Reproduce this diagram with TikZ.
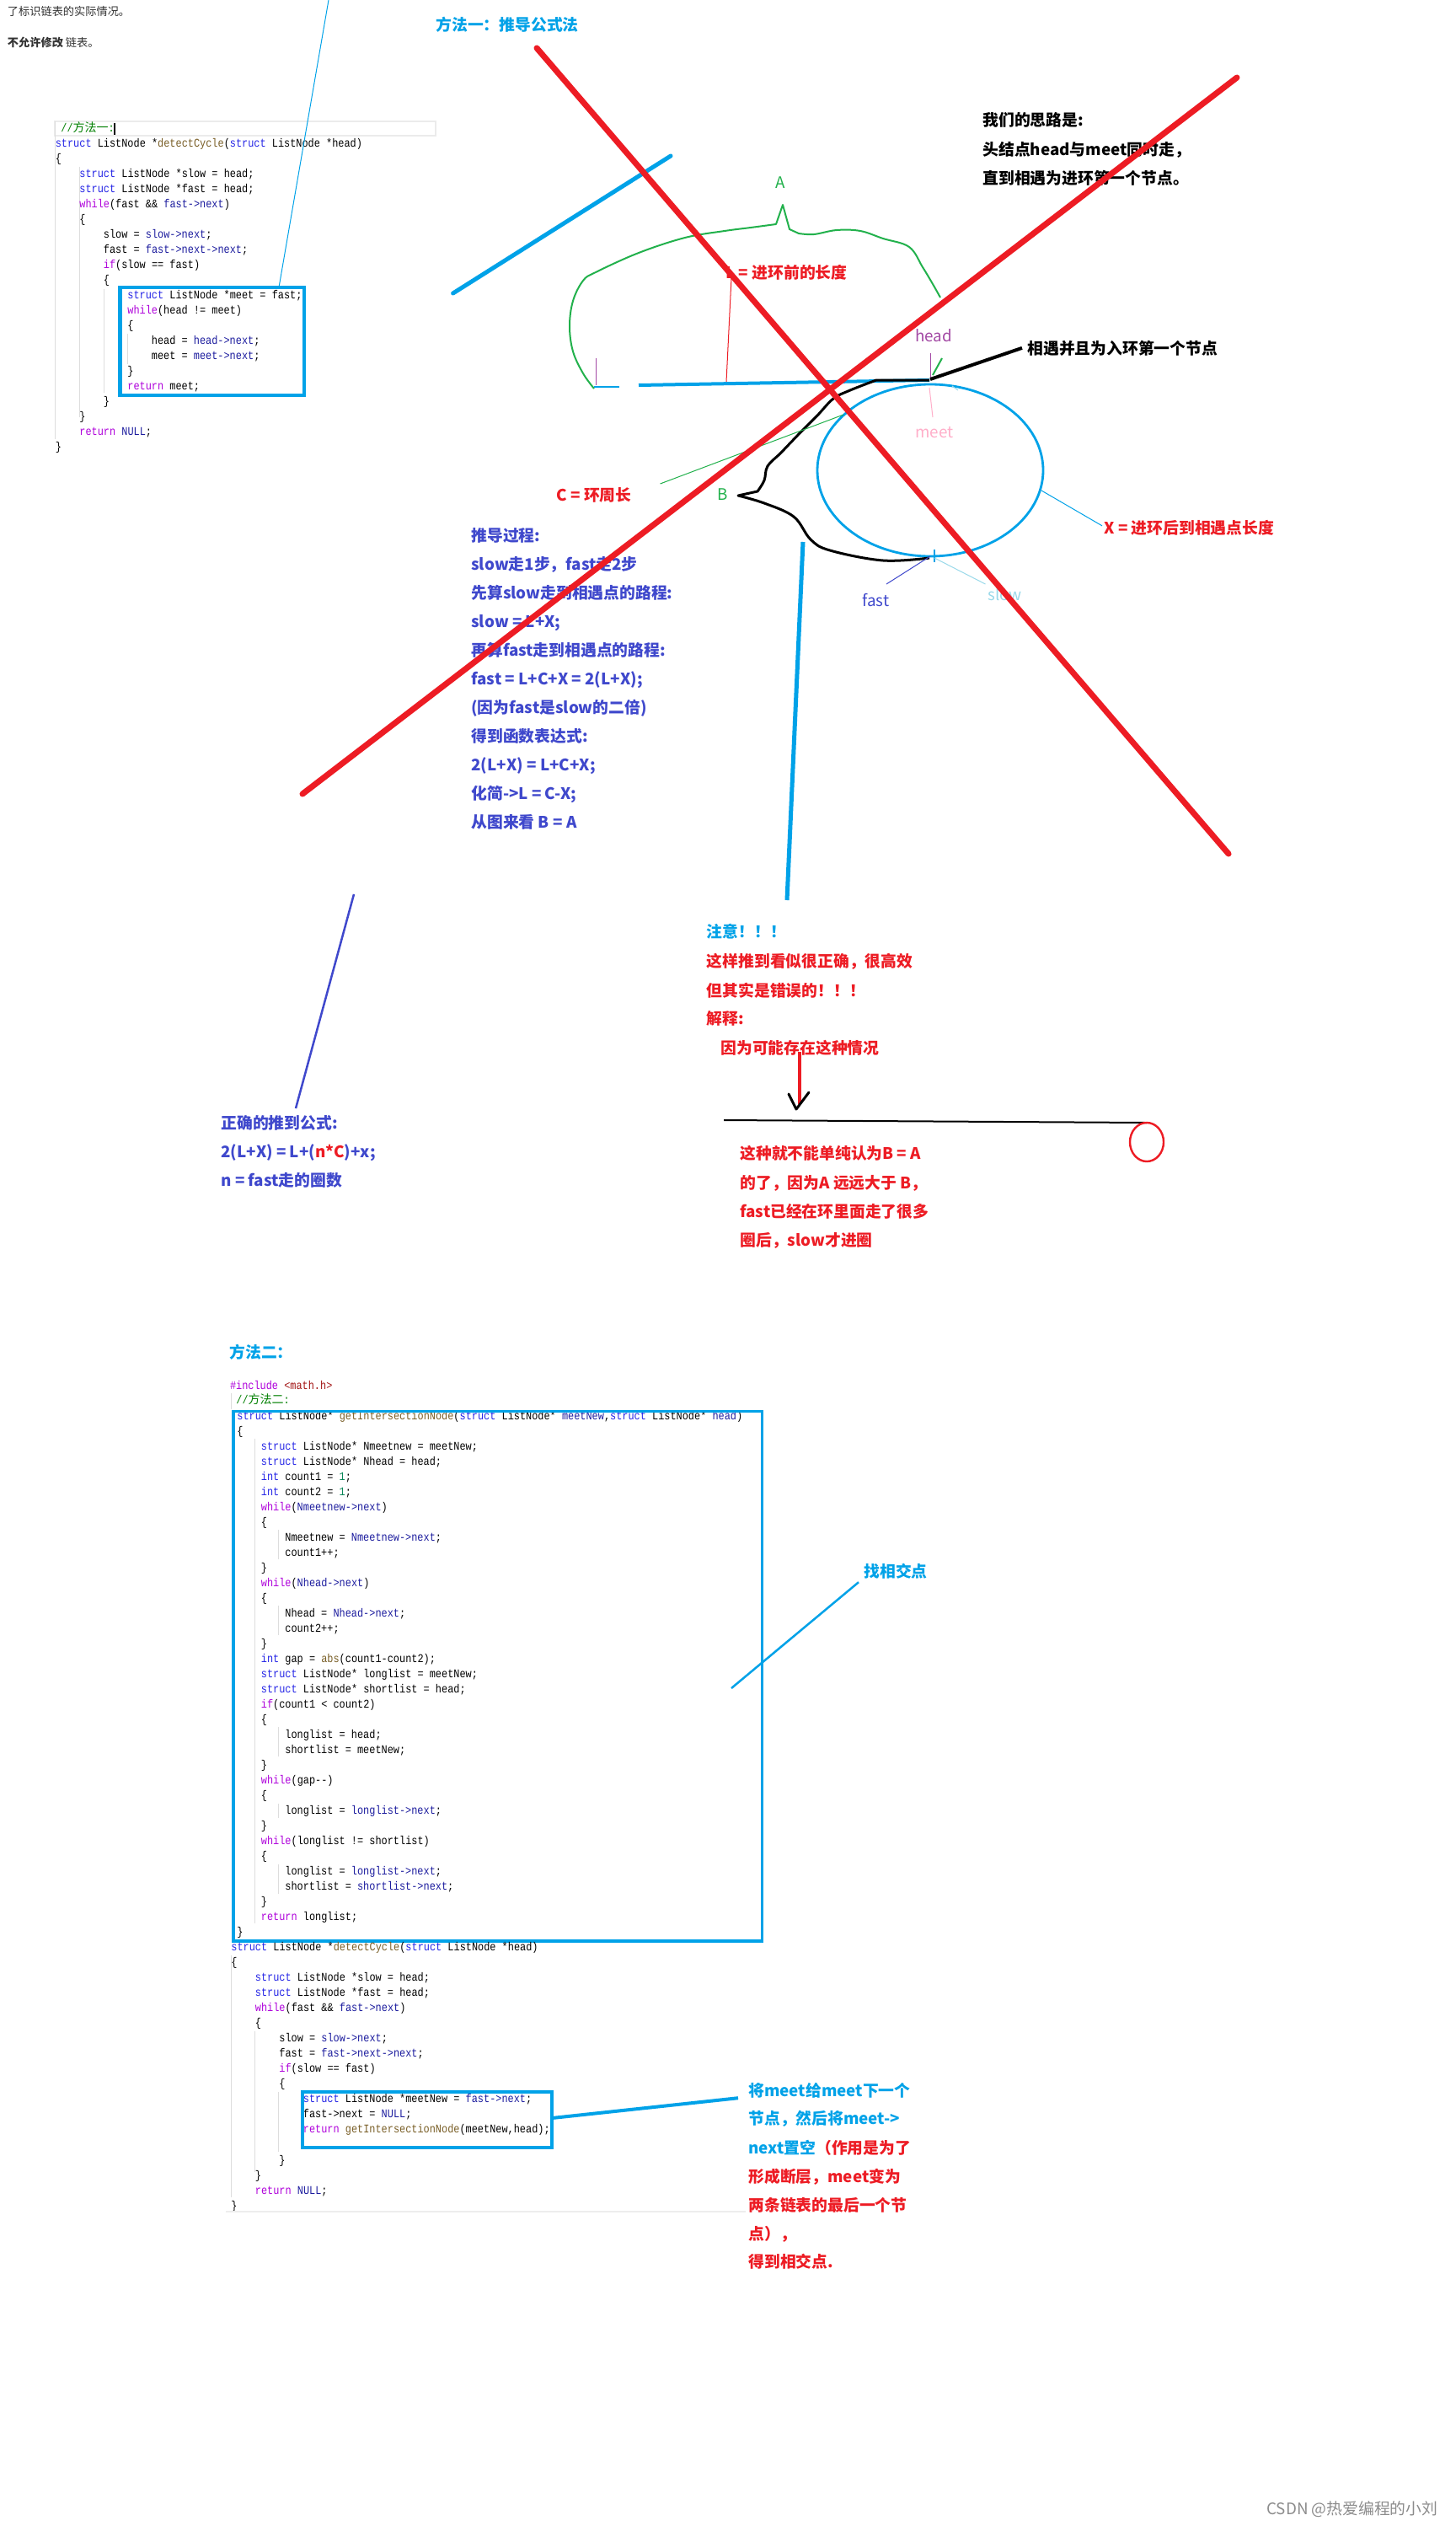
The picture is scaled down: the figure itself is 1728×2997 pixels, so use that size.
\documentclass[tikz,border=0pt]{standalone}
\usepackage{fontspec}
\setmainfont{Liberation Sans}
\newfontfamily\cjk{Noto Sans CJK SC}
\newfontfamily\codefam{Liberation Mono}[FakeStretch=0.85]
\newcommand\codefont{\codefam\fontsize{7}{8}\selectfont}
\newcommand\labfont{\cjk\bfseries\fontsize{9.4}{11}\selectfont}
\newcommand\labrfont{\cjk\fontsize{9.4}{11}\selectfont}
\newcommand\topfont{\cjk\fontsize{6.6}{8}\selectfont}
\definecolor{pblue}{HTML}{00A2E8}
\definecolor{pred}{HTML}{ED1C24}
\definecolor{pgreen}{HTML}{22B14C}
\definecolor{ppurple}{HTML}{A349A4}
\definecolor{ppink}{HTML}{FFAEC9}
\definecolor{pindigo}{HTML}{3F48CC}
\definecolor{plblue}{HTML}{99D9EA}
\definecolor{ckw}{HTML}{2424E6}
\definecolor{cct}{HTML}{AF00DB}
\definecolor{cfn}{HTML}{795E26}
\definecolor{cmb}{HTML}{1C1C9E}
\definecolor{ccm}{HTML}{008000}
\definecolor{cnu}{HTML}{098658}
\definecolor{csr}{HTML}{A31515}
\definecolor{cguide}{HTML}{DDDDDD}
\definecolor{txtgray}{HTML}{333333}
\definecolor{wmgray}{HTML}{8C8C8C}
\newcommand\xkw[1]{\textcolor{ckw}{#1}}
\newcommand\xct[1]{\textcolor{cct}{#1}}
\newcommand\xfn[1]{\textcolor{cfn}{#1}}
\newcommand\xmb[1]{\textcolor{cmb}{#1}}
\newcommand\xcm[1]{\textcolor{ccm}{#1}}
\newcommand\xnu[1]{\textcolor{cnu}{#1}}
\newcommand\xsr[1]{\textcolor{csr}{#1}}
\newcommand\cln[4]{\node[code] (#1) at (#2,#3) {#4};}
\begin{document}
\begin{tikzpicture}[x=0.5pt,y=-0.5pt,
  code/.style={anchor=base west,inner sep=0pt,font=\codefont,yshift=-2.1pt},
  lab/.style={anchor=base west,inner sep=0pt,font=\labfont,yshift=-3.5pt},
  labr/.style={anchor=base west,inner sep=0pt,font=\labrfont,yshift=-3.5pt},
  toptxt/.style={anchor=base west,inner sep=0pt,font=\topfont,text=txtgray,yshift=-2.4pt},
  guide/.style={draw=cguide,line width=0.5pt},
  redx/.style={draw=pred,line width=3.5pt,line cap=round},
  hair/.style={line width=0.5pt},
]
\fill[white] (0,0) rectangle (1728,2997);
\useasboundingbox (0,0) rectangle (1728,2997);

% ---------- top text ----------
\node[toptxt] (t1) at (8.6,14) {了标识链表的实际情况。};
\node[toptxt] (t2) at (8.6,51) {\bfseries 不允许修改\mdseries\ 链表。};

% ---------- code block 1 ----------
\draw[draw=black!8,line width=1pt] (65,144) rectangle (517,161);
\draw[black,line width=0.6pt] (136,146) -- (136,160);
\draw[guide] (65.4,144) -- (65.4,521);
\draw[guide] (94.7,198) -- (94.7,495);
\draw[guide] (123,343) -- (123,466);
\draw[guide] (151.7,396) -- (151.7,432);
\cln{c1a}{72}{152}{\xcm{//{\cjk 方法一}:}}
\cln{c1b}{65.4}{170}{\xkw{struct} ListNode *\xfn{detectCycle}(\xkw{struct} ListNode *head)}
\cln{c1c}{65.4}{188}{\{}
\cln{c1d}{94}{206}{\xkw{struct} ListNode *slow = head;}
\cln{c1e}{94}{224}{\xkw{struct} ListNode *fast = head;}
\cln{c1f}{94}{242}{\xct{while}(fast \&\& \xmb{fast->next})}
\cln{c1g}{94}{260}{\{}
\cln{c1h}{122.5}{278}{slow = \xmb{slow->next};}
\cln{c1i}{122.5}{296}{fast = \xmb{fast->next->next};}
\cln{c1j}{122.5}{314}{\xct{if}(slow == fast)}
\cln{c1k}{122.5}{332}{\{}
\cln{c1l}{151}{350}{\xkw{struct} ListNode *meet = fast;}
\cln{c1m}{151}{368}{\xct{while}(head != meet)}
\cln{c1n}{151}{386}{\{}
\cln{c1o}{179.5}{404}{head = \xmb{head->next};}
\cln{c1p}{179.5}{422}{meet = \xmb{meet->next};}
\cln{c1q}{151}{440}{\}}
\cln{c1r}{151}{458}{\xct{return} meet;}
\cln{c1s}{122.5}{476}{\}}
\cln{c1t}{94}{494}{\}}
\cln{c1u}{94}{512}{\xct{return} \xmb{NULL};}
\cln{c1v}{65.4}{530}{\}}
\draw[pblue,line width=2.25pt] (142.5,341) rectangle (361,469);
\coordinate (b1top) at (331,341);
\coordinate (b1end) at (390,0);
\draw[pblue,line width=0.5pt] (b1top) -- (b1end);

% ---------- method 1 diagram ----------
\node[lab,text=pblue] (title1) at (517,30) {方法一：推导公式法};
\node[lab] (idea1) at (1166,143) {我们的思路是:};
\node[lab] (idea2) at (1166,178) {头结点head与meet同时走，};
\node[lab] (idea3) at (1166,212) {直到相遇为进环第一个节点。};
\node[labr,text=pgreen] (labA) at (920,217) {A};
\node[lab,text=pred] (labL) at (861,323) {L = 进环前的长度};
\node[labr,text=ppurple] (labhead) at (1086,398) {head};
\node[lab] (meetlab) at (1219,413) {相遇并且为入环第一个节点};
\node[labr,text=ppink] (labmeet) at (1086,512) {meet};
\node[lab,text=pred] (labC) at (660,587) {C = 环周长};
\node[labr,text=pgreen] (labB) at (851,586) {B};
\node[lab,text=pred] (labX) at (1310,626) {X = 进环后到相遇点长度};
\node[labr,text=pindigo] (labfast) at (1023,712) {fast};
\node[labr,text=plblue] (labslow) at (1172,705) {slow};

% green lasso (A)
\draw[pgreen,line width=1pt,line join=round] plot[smooth,tension=0.6] coordinates {(705,461) (692,443) (680,417) (676,387) (680,357) (692,333) (707,323) (758,300) (813,282) (860,274) (891,270) (921,266)} -- (929,243) -- (937,272) -- plot[smooth,tension=0.6] coordinates {(948,277) (966,278) (993,273) (1021,274) (1048,283) (1079,293) (1095,317) (1107,337) (1116,353)};
\draw[pgreen,line width=1pt] (1118,425) -- (1107,445);
% L marker
\draw[pred,hair] (868,330) -- (862,453);
% purple ticks
\draw[ppurple,hair] (1104.5,419) -- (1104.5,450);
\draw[ppurple,hair] (707.5,425) -- (707.5,457);
% list line
\draw[pblue,line width=0.75pt] (705,459) -- (735,459);
\draw[pblue,line width=2pt] (758,457) -- (1103,451);
% cycle
\draw[pblue,line width=1.4pt] (1104,558) ellipse [x radius=134,y radius=102];
\draw[plblue,hair] (1130,458) -- (1137,463);
% pink meet tick
\draw[ppink,hair] (1103,460) -- (1107,495);
% black bracket (B)
\draw[black,line width=1.5pt,line join=round] (1103,451) -- (1040,451) -- plot[smooth,tension=0.6] coordinates {(1040,451) (1009,463) (989,473) (970,493) (950,513) (927,537) (911,553) (907,570) (899,583)} -- (876,588) -- plot[smooth,tension=0.6] coordinates {(876,588) (907,597) (942,613) (962,640) (985,653) (1048,665) (1103,662)};
\draw[black,line width=2pt] (1104,450) -- ([xshift=-3pt]meetlab.west);
% connectors to labels
\draw[pgreen,hair] (1001,492) -- (783.5,574);
\draw[pblue,hair] (1236,582) -- ([xshift=-1pt,yshift=1pt]labX.west);
\draw[pblue,line width=0.8pt] (1109,652) -- (1109,667);
\draw[pindigo,hair] (1104,660) -- (1052,693);
\draw[plblue,hair] (1109,662) -- (1169.5,693);
% blue strokes
\draw[pblue,line width=2.5pt,line cap=round] (796,185) -- (537.6,348);
\draw[pblue,line width=2.5pt] (953,643) -- (934,1068);

% derivation
\node[lab,text=pindigo] (d1) at (559,635) {推导过程:};
\node[lab,text=pindigo] (d2) at (559,669) {slow走1步，fast走2步};
\node[lab,text=pindigo] (d3) at (559,703) {先算slow走到相遇点的路程:};
\node[lab,text=pindigo] (d4) at (559,737) {slow = L+X;};
\node[lab,text=pindigo] (d5) at (559,771) {再算fast走到相遇点的路程:};
\node[lab,text=pindigo] (d6) at (559,805) {fast = L+C+X = 2(L+X);};
\node[lab,text=pindigo] (d7) at (559,839) {(因为fast是slow的二倍)};
\node[lab,text=pindigo] (d8) at (559,873) {得到函数表达式:};
\node[lab,text=pindigo] (d9) at (559,907) {2(L+X) = L+C+X;};
\node[lab,text=pindigo] (d10) at (559,941) {化简->L = C-X;};
\node[lab,text=pindigo] (d11) at (559,975) {从图来看 B = A};

% correct formula
\draw[pindigo,line width=1.25pt] (420,1061) -- (351,1315);
\node[lab,text=pindigo] (f1) at (262,1332) {正确的推到公式:};
\node[lab,text=pindigo] (f2) at (262,1366) {2(L+X) = L+(\textcolor{pred}{n*C})+x;};
\node[lab,text=pindigo] (f3) at (262,1400) {n = fast走的圈数};

% attention
\node[lab,text=pblue] (n1) at (838.5,1105) {注意！！！};
\node[lab,text=pred] (n2) at (838.5,1140) {这样推到看似很正确，很高效};
\node[lab,text=pred] (n3) at (838.5,1175) {但其实是错误的！！！};
\node[lab,text=pred] (n4) at (838.5,1208) {解释:};
\node[lab,text=pred] (n5) at (855,1243) {因为可能存在这种情况};
\draw[pred,line width=2pt] (949,1248) -- (949,1310);
\draw[black,line width=1.5pt,line join=round,line cap=round] (936,1298) -- (945,1316) -- (960,1296);
\draw[black,line width=1pt] (859,1329) -- (1361,1332);
\draw[pred,line width=1.2pt] (1361,1355) ellipse [x radius=20,y radius=23];
\node[lab,text=pred] (r1) at (878,1368) {这种就不能单纯认为B = A};
\node[lab,text=pred] (r2) at (878,1403) {的了，因为A 远远大于 B，};
\node[lab,text=pred] (r3) at (878,1437) {fast已经在环里面走了很多};
\node[lab,text=pred] (r4) at (878,1471) {圈后，slow才进圈};

% ---------- method 2 ----------
\node[lab,text=pblue] (title2) at (272,1604) {方法二：};
\draw[guide] (274,1653) -- (274,1672);
\cln{c2inc}{272.6}{1644}{\xct{\#include} \xsr{<math.h>}}
\cln{c2cm}{280}{1661}{\xcm{//{\cjk 方法二}:}}
\draw[guide] (302,1707) -- (302,2282);
\draw[guide] (330,1815) -- (330,1850);
\draw[guide] (330,1905) -- (330,1940);
\draw[guide] (330,2049) -- (330,2084);
\draw[guide] (330,2140) -- (330,2157);
\draw[guide] (330,2212) -- (330,2247);
\cln{c2a}{281}{1680}{\xkw{struct} ListNode* \xfn{getIntersectionNode}(\xkw{struct} ListNode* \xmb{meetNew},\xkw{struct} ListNode* \xmb{head})}
\cln{c2b}{281}{1698}{\{}
\cln{c2c}{309.5}{1716}{\xkw{struct} ListNode* Nmeetnew = meetNew;}
\cln{c2d}{309.5}{1734}{\xkw{struct} ListNode* Nhead = head;}
\cln{c2e}{309.5}{1752}{\xkw{int} count1 = \xnu{1};}
\cln{c2f}{309.5}{1770}{\xkw{int} count2 = \xnu{1};}
\cln{c2g}{309.5}{1788}{\xct{while}(\xmb{Nmeetnew->next})}
\cln{c2h}{309.5}{1806}{\{}
\cln{c2i}{338}{1824}{Nmeetnew = \xmb{Nmeetnew->next};}
\cln{c2j}{338}{1842}{count1++;}
\cln{c2k}{309.5}{1860}{\}}
\cln{c2l}{309.5}{1878}{\xct{while}(\xmb{Nhead->next})}
\cln{c2m}{309.5}{1896}{\{}
\cln{c2n}{338}{1914}{Nhead = \xmb{Nhead->next};}
\cln{c2o}{338}{1932}{count2++;}
\cln{c2p}{309.5}{1950}{\}}
\cln{c2q}{309.5}{1968}{\xkw{int} gap = \xfn{abs}(count1-count2);}
\cln{c2r}{309.5}{1986}{\xkw{struct} ListNode* longlist = meetNew;}
\cln{c2s}{309.5}{2004}{\xkw{struct} ListNode* shortlist = head;}
\cln{c2t}{309.5}{2022}{\xct{if}(count1 < count2)}
\cln{c2u}{309.5}{2040}{\{}
\cln{c2v}{338}{2058}{longlist = head;}
\cln{c2w}{338}{2076}{shortlist = meetNew;}
\cln{c2x}{309.5}{2094}{\}}
\cln{c2y}{309.5}{2112}{\xct{while}(gap-{}-)}
\cln{c2z}{309.5}{2130}{\{}
\cln{c2aa}{338}{2148}{longlist = \xmb{longlist->next};}
\cln{c2ab}{309.5}{2166}{\}}
\cln{c2ac}{309.5}{2184}{\xct{while}(longlist != shortlist)}
\cln{c2ad}{309.5}{2202}{\{}
\cln{c2ae}{338}{2220}{longlist = \xmb{longlist->next};}
\cln{c2af}{338}{2238}{shortlist = \xmb{shortlist->next};}
\cln{c2ag}{309.5}{2256}{\}}
\cln{c2ah}{309.5}{2274}{\xct{return} longlist;}
\cln{c2ai}{281}{2292}{\}}
\draw[pblue,line width=1.75pt] (277,1674.5) rectangle (904.5,2303);
\node[lab,text=pblue] (find) at (1025,1864) {找相交点};
\coordinate (findstart) at (868,2003);
\draw[pblue,line width=1.25pt] (findstart) -- ([xshift=-3pt,yshift=-2pt]find.south west);

% code block 3
\draw[guide] (274,2320) -- (274,2607);
\draw[guide] (302,2410) -- (302,2577);
\draw[guide] (330.7,2482) -- (330.7,2553);
\cln{c3a}{274}{2310}{\xkw{struct} ListNode *\xfn{detectCycle}(\xkw{struct} ListNode *head)}
\cln{c3b}{274}{2328}{\{}
\cln{c3c}{302.5}{2346}{\xkw{struct} ListNode *slow = head;}
\cln{c3d}{302.5}{2364}{\xkw{struct} ListNode *fast = head;}
\cln{c3e}{302.5}{2382}{\xct{while}(fast \&\& \xmb{fast->next})}
\cln{c3f}{302.5}{2400}{\{}
\cln{c3g}{331}{2418}{slow = \xmb{slow->next};}
\cln{c3h}{331}{2436}{fast = \xmb{fast->next->next};}
\cln{c3i}{331}{2454}{\xct{if}(slow == fast)}
\cln{c3j}{331}{2472}{\{}
\cln{c3k}{359.5}{2490}{\xkw{struct} ListNode *meetNew = \xmb{fast->next};}
\cln{c3l}{359.5}{2508}{fast->next = \xmb{NULL};}
\cln{c3m}{359.5}{2526}{\xct{return} \xfn{getIntersectionNode}(meetNew,head);}
\cln{c3n}{331}{2563}{\}}
\cln{c3o}{302.5}{2581}{\}}
\cln{c3p}{302.5}{2599}{\xct{return} \xmb{NULL};}
\cln{c3q}{274}{2617}{\}}
\draw[draw=black!7,line width=0.75pt] (268,2624) -- (885,2624);
\draw[pblue,line width=2pt] (359,2482) rectangle (655,2548);
\coordinate (b3right) at (655,2513);
\node[lab,text=pblue] (fin1) at (888,2480) {将meet给meet下一个};
\node[lab,text=pblue] (fin2) at (888,2513) {节点，然后将meet->};
\node[lab,text=pblue] (fin3) at (888,2548) {next置空\textcolor{pred}{（作用是为了}};
\node[lab,text=pred] (fin4) at (888,2582) {形成断层，meet变为};
\node[lab,text=pred] (fin5) at (888,2616) {两条链表的最后一个节};
\node[lab,text=pred] (fin6) at (888,2650) {点），};
\node[lab,text=pred] (fin7) at (888,2683) {得到相交点.};
\draw[pblue,line width=2pt] (b3right) -- ([xshift=-6pt]fin1.south west);

% watermark
\node[anchor=base west,inner sep=0pt,font=\cjk\fontsize{9.4}{10}\selectfont,text=wmgray,yshift=-3.3pt] (wm) at (1503,2977) {CSDN @热爱编程的小刘};

% ---------- red X on top ----------
\draw[redx] (637,57) -- (1458,1013);
\draw[redx] (1468,92) -- (359,942);
\end{tikzpicture}
\end{document}
